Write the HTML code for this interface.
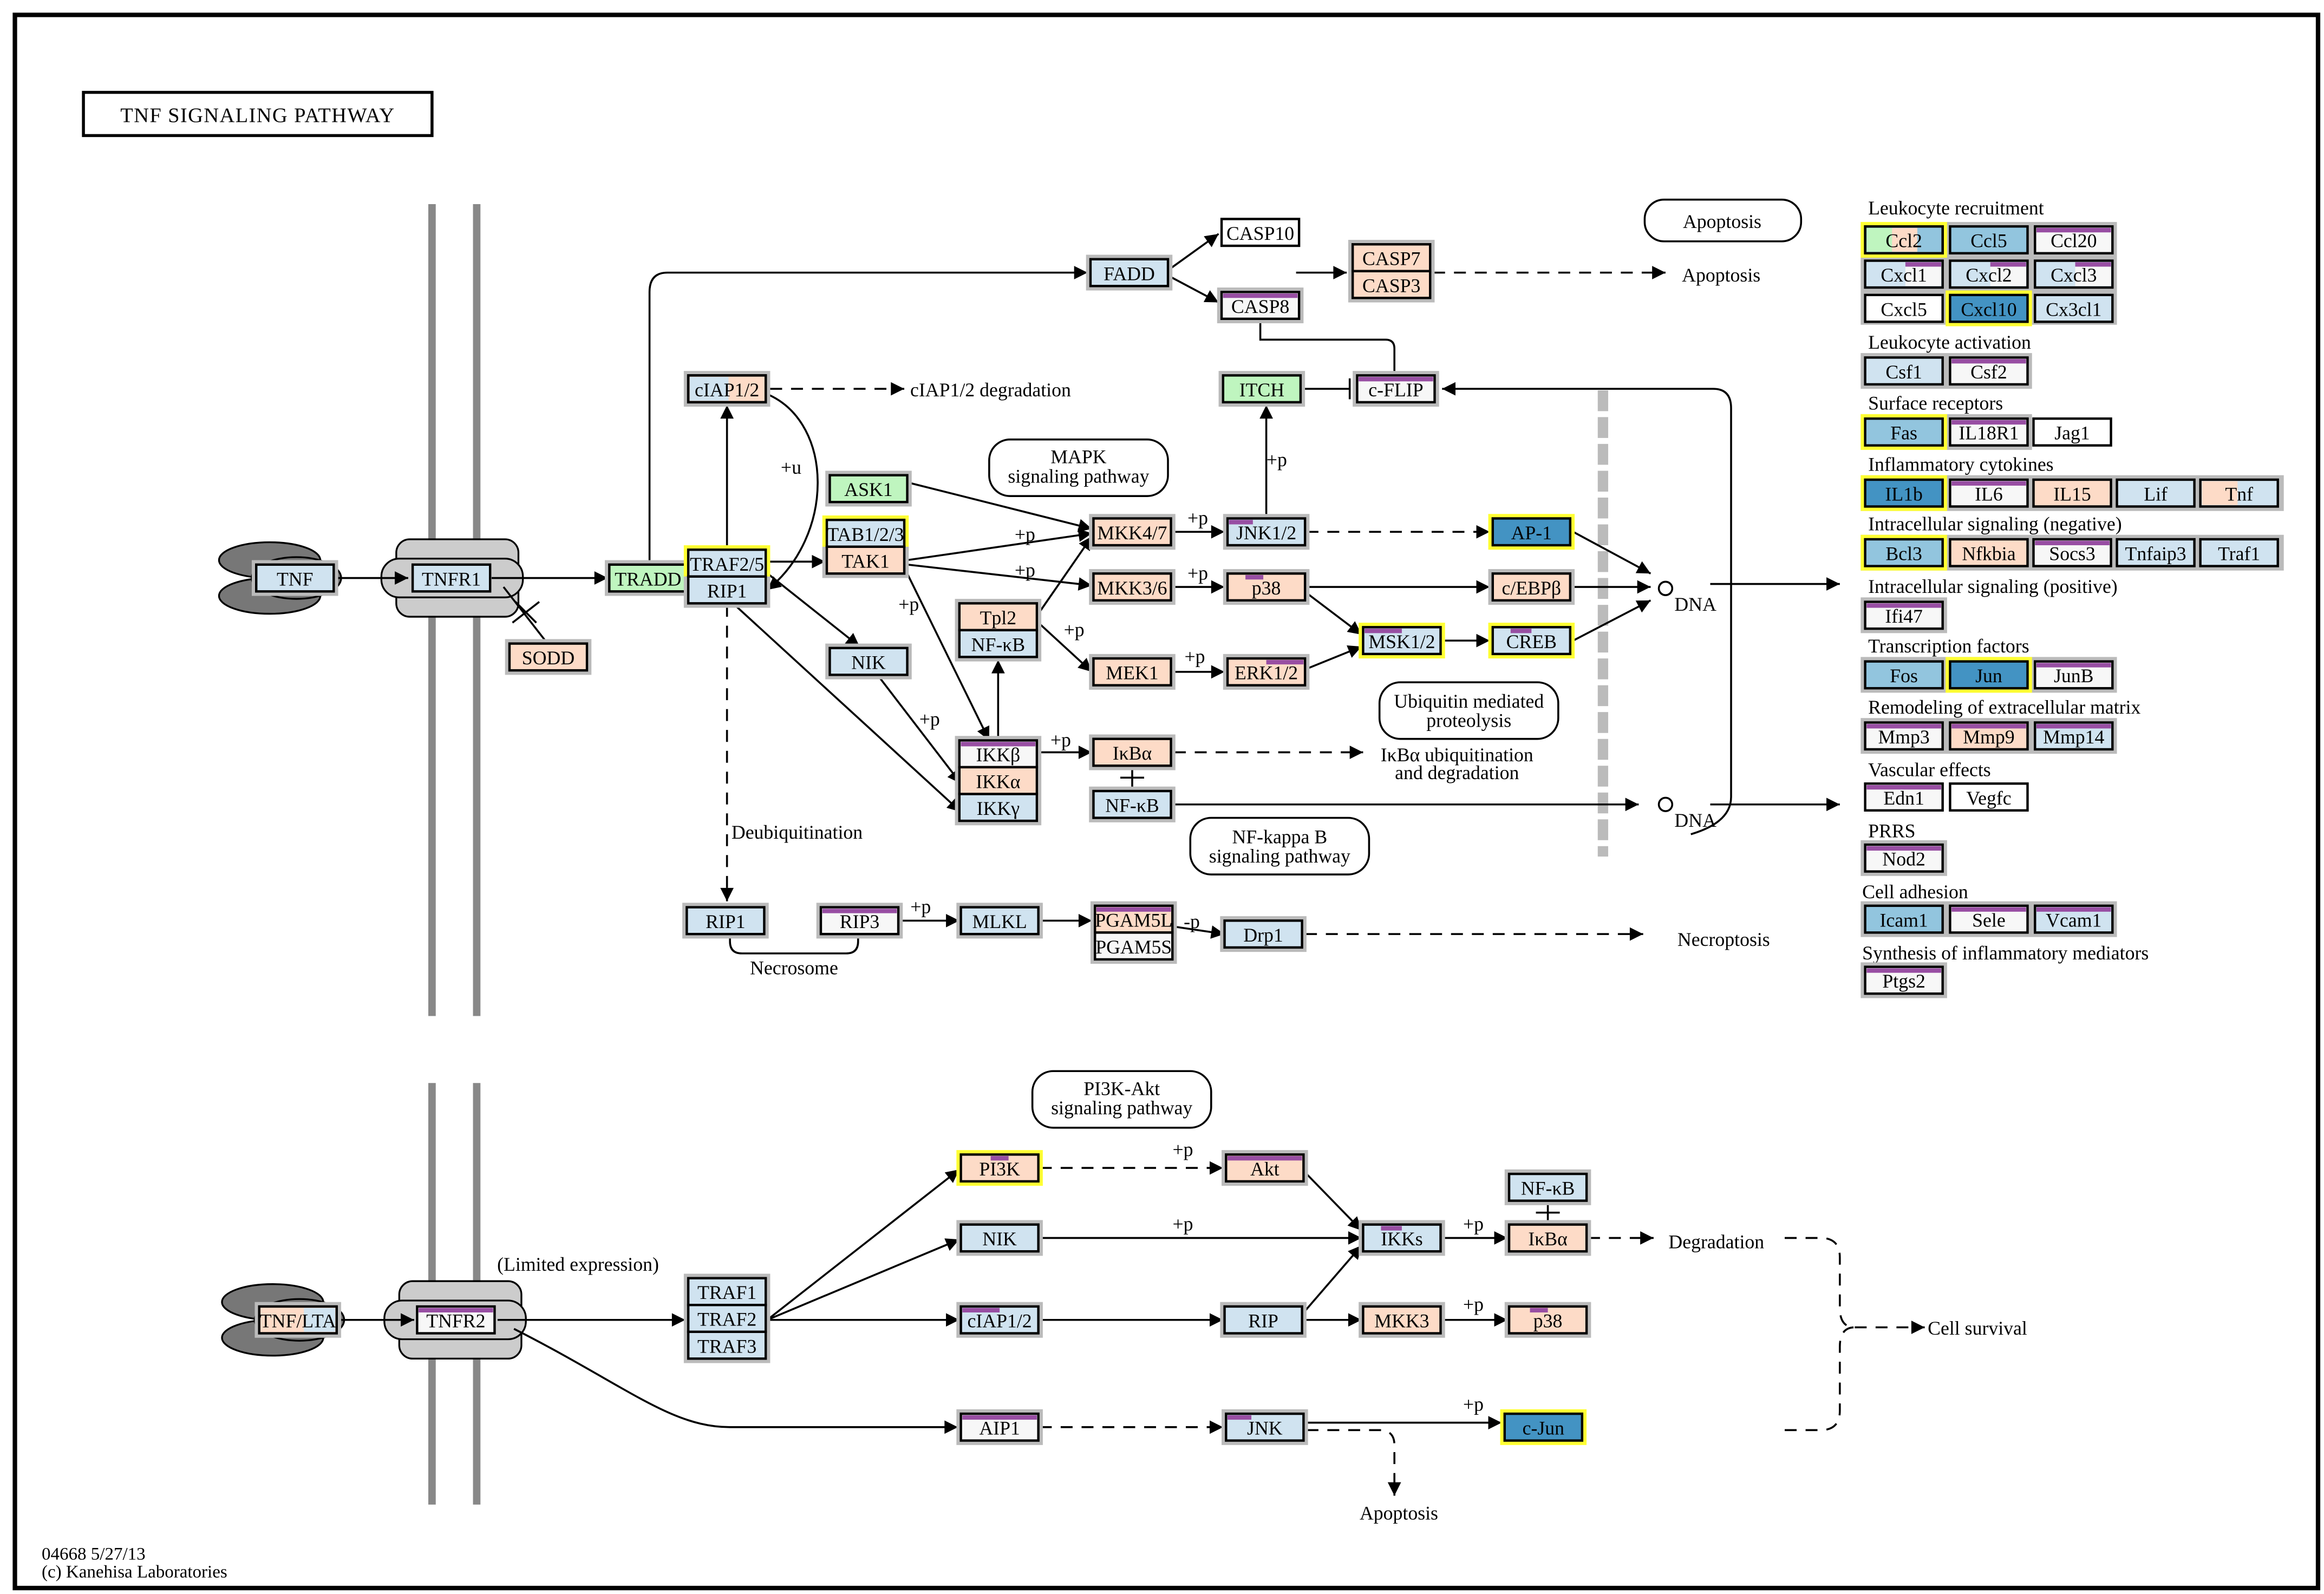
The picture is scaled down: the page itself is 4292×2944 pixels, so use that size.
<!DOCTYPE html>
<html><head><meta charset="utf-8"><style>
html,body{margin:0;padding:0;background:#fff}
svg{display:block}
text{font-family:"Liberation Serif",serif;font-size:13px;fill:#000;text-anchor:middle}
.l{text-anchor:start}
.h{fill:#bbb}.y{fill:#ff3}
.b{stroke:#000;stroke-width:1.6}
.lb{fill:#d0e3f0}.mb{fill:#92c5de}.db{fill:#4393c3}.pe{fill:#fddbc7}.wh{fill:#f7f7f7}.gr{fill:#bff5bf}.ww{fill:#fff}
.pu{fill:#984ea3}
.ln{fill:none;stroke:#000;stroke-width:1.3}
.ar{marker-end:url(#a)}
.da{stroke-dasharray:8 6}
</style></head><body>
<svg width="4292" height="2944" viewBox="0 0 1560 1070" preserveAspectRatio="none" xmlns="http://www.w3.org/2000/svg">
<defs><marker id="a" viewBox="0 0 10 10" refX="10" refY="5" markerUnits="userSpaceOnUse" markerWidth="11" markerHeight="9" orient="auto"><path d="M0,0L10,5L0,10z" fill="#000"/></marker></defs>
<rect x="0" y="0" width="1560" height="1070" fill="#fff"/>
<rect x="10" y="10" width="1546" height="1056" fill="none" stroke="#000" stroke-width="3"/>
<rect x="56" y="62" width="234" height="29" fill="#fff" stroke="#000" stroke-width="2"/>
<text x="173" y="82" style="font-size:14px;letter-spacing:0.5px">TNF SIGNALING PATHWAY</text>

<!-- membranes -->
<g stroke="#888" stroke-width="5"><line x1="290" y1="137" x2="290" y2="682"/><line x1="320" y1="137" x2="320" y2="682"/><line x1="290" y1="727" x2="290" y2="1010"/><line x1="320" y1="727" x2="320" y2="1010"/></g>
<line x1="1076" y1="262" x2="1076" y2="575" stroke="#bbb" stroke-width="7" stroke-dasharray="14 4"/>

<!-- receptor shapes -->
<g stroke="#000" stroke-width="1.2">
<ellipse cx="181" cy="376" rx="34" ry="12" fill="#777"/><ellipse cx="181" cy="400" rx="34" ry="12" fill="#777"/><ellipse cx="199" cy="388" rx="30" ry="14" fill="#777"/>
<rect x="266" y="362" width="82" height="26" rx="9" fill="#ccc"/><rect x="266" y="388" width="82" height="26" rx="9" fill="#ccc"/><rect x="256" y="375" width="95" height="26" rx="12" fill="#ccc"/>
<ellipse cx="183" cy="874" rx="34" ry="12" fill="#777"/><ellipse cx="183" cy="898" rx="34" ry="12" fill="#777"/><ellipse cx="201" cy="886" rx="30" ry="14" fill="#777"/>
<rect x="268" y="860" width="82" height="26" rx="9" fill="#ccc"/><rect x="268" y="886" width="82" height="26" rx="9" fill="#ccc"/><rect x="258" y="873" width="95" height="26" rx="12" fill="#ccc"/>
</g>

<!-- ovals -->
<g fill="#fff" stroke="#000" stroke-width="1.3">
<rect x="1104" y="134" width="105" height="28" rx="13"/>
<rect x="664" y="295" width="120" height="38" rx="14"/>
<rect x="926" y="458" width="120" height="38" rx="14"/>
<rect x="799" y="549" width="120" height="38" rx="14"/>
<rect x="693" y="719" width="120" height="38" rx="14"/>
</g>
<text x="1156" y="153">Apoptosis</text>
<text x="724" y="311">MAPK</text><text x="724" y="324">signaling pathway</text>
<text x="986" y="475">Ubiquitin mediated</text><text x="986" y="488">proteolysis</text>
<text x="859" y="566">NF-kappa B</text><text x="859" y="579">signaling pathway</text>
<text x="753" y="735">PI3K-Akt</text><text x="753" y="748">signaling pathway</text>

<!-- edges -->
<g class="ln">
<path class="ar" d="M226,388H274"/>
<path class="ar" d="M330,388H408"/>
<path d="M338,394L366,430"/><path d="M344,418L362,404M346,404L360,418"/>
<path class="ar" d="M436,379V196Q436,183 448,183H730"/>
<path class="ar" d="M786,180L818,157"/><path class="ar" d="M786,186L818,203"/>
<path class="ar" d="M870,183H904"/>
<path class="ar da" d="M962,183H1118"/>
<path d="M846,214V228H930Q936,228 936,234V252"/>
<path d="M874,261H906M906,254V268"/>
<path class="ar" d="M850,348V272"/>
<path class="ar" d="M1135,560Q1162,552 1162,535V274Q1162,261 1150,261H968"/>
<path class="ar" d="M488,369V272"/>
<path class="ar" d="M516,265C560,285 560,360 515,396"/>
<path class="ar da" d="M517,261H607"/>
<path class="ar" d="M514,377H554"/>
<path class="ar" d="M514,384L577,434"/>
<path class="ar" d="M492,405L645,545"/>
<path class="ar da" d="M488,406V605"/>
<path class="ar" d="M610,324L733,355"/>
<path class="ar" d="M609,376L733,358"/>
<path class="ar" d="M609,379L733,393"/>
<path class="ar" d="M609,385L664,497"/>
<path class="ar" d="M697,412L733,360"/>
<path class="ar" d="M697,418L733,451"/>
<path class="ar" d="M589,453L645,526"/>
<path class="ar" d="M670,496V443"/>
<path class="ar" d="M697,505H733"/>
<path class="ar da" d="M788,505H915"/>
<path d="M760,514V531M752,522H768"/>
<path class="ar" d="M788,540H1100"/>
<path class="ar" d="M788,357H822"/>
<path class="ar" d="M788,394H822"/>
<path class="ar" d="M788,451H822"/>
<path class="ar da" d="M877,357H1000"/>
<path class="ar" d="M877,394H1000"/>
<path class="ar" d="M877,398L914,426"/>
<path class="ar" d="M877,449L914,434"/>
<path class="ar" d="M968,430H1000"/>
<path class="ar" d="M1056,357L1108,385"/>
<path class="ar" d="M1056,394H1108"/>
<path class="ar" d="M1056,430L1108,403"/>
<path class="ar" d="M1148,392H1235"/>
<path class="ar" d="M1148,540H1235"/>
<path d="M490,627V632Q490,640 498,640H568Q576,640 576,632V627"/>
<path class="ar" d="M604,618H644"/>
<path class="ar" d="M698,618H733"/>
<path class="ar" d="M788,622L822,627"/>
<path class="ar da" d="M876,627H1103"/>
<path class="ar" d="M228,886H278"/>
<path class="ar" d="M334,886H460"/>
<path class="ar" d="M345,892C420,930 450,958 490,958H643"/>
<path class="ar" d="M515,886L644,785"/>
<path class="ar" d="M515,886L644,832"/>
<path class="ar" d="M515,886H644"/>
<path class="ar da" d="M698,784H821"/>
<path class="ar" d="M698,831H914"/>
<path class="ar" d="M698,886H821"/>
<path class="ar" d="M877,788L914,826"/>
<path class="ar" d="M876,880L914,836"/>
<path class="ar" d="M876,886H914"/>
<path class="ar" d="M968,886H1012"/>
<path class="ar" d="M968,831H1012"/>
<path d="M1039,806V822M1031,814H1047"/>
<path class="ar da" d="M1066,831H1110"/>
<path class="ar da" d="M698,958H821"/>
<path class="ar" d="M877,955H1008"/>
<path class="ar da" d="M877,960H926Q936,960 936,970V1004"/>
<path class="da" d="M1198,831H1222Q1235,831 1235,844V878Q1235,891 1245,891"/>
<path class="da" d="M1198,960H1222Q1235,960 1235,947V904Q1235,891 1245,891"/>
<path class="ar da" d="M1245,891H1292"/>
</g>
<g fill="#fff" stroke="#000" stroke-width="1.3"><circle cx="1118" cy="395" r="4.5"/><circle cx="1118" cy="540" r="4.5"/></g>

<!-- labels -->
<text class="l" x="1129" y="189">Apoptosis</text>
<text class="l" x="611" y="266">cIAP1/2 degradation</text>
<text x="531" y="318">+u</text>
<text x="857" y="313">+p</text>
<text x="688" y="363">+p</text><text x="688" y="387">+p</text><text x="610" y="410">+p</text><text x="721" y="427">+p</text><text x="624" y="487">+p</text><text x="712" y="501">+p</text>
<text x="804" y="352">+p</text><text x="804" y="389">+p</text><text x="802" y="445">+p</text>
<text class="l" x="1124" y="410">DNA</text><text class="l" x="1124" y="555">DNA</text>
<text x="978" y="511">IκBα ubiquitination</text><text x="978" y="523">and degradation</text>
<text class="l" x="491" y="563">Deubiquitination</text>
<text x="533" y="654">Necrosome</text>
<text x="618" y="613">+p</text><text x="800" y="623">-p</text>
<text class="l" x="1126" y="635">Necroptosis</text>
<text x="388" y="853">(Limited expression)</text>
<text x="794" y="776">+p</text><text x="794" y="826">+p</text><text x="989" y="826">+p</text><text x="989" y="880">+p</text><text x="989" y="947">+p</text>
<text class="l" x="1120" y="838">Degradation</text>
<text class="l" x="1294" y="896">Cell survival</text>
<text x="939" y="1020">Apoptosis</text>
<text class="l" x="28" y="1047" style="font-size:12px">04668 5/27/13</text>
<text class="l" x="28" y="1059" style="font-size:12px">(c) Kanehisa Laboratories</text>

<!-- main nodes -->
<g transform="translate(172,379)"><rect class="h" x="-3" y="-3" width="58" height="24"/><rect class="b lb" width="52" height="18"/><text x="26" y="14">TNF</text></g>
<g transform="translate(277,379)"><rect class="b lb" width="52" height="18"/><text x="26" y="14">TNFR1</text></g>
<g transform="translate(409,379)"><rect class="h" x="-3" y="-3" width="58" height="24"/><rect class="b gr" width="52" height="18"/><text x="26" y="14">TRADD</text></g>
<g transform="translate(462,369)"><rect class="y" x="-3" y="-3" width="58" height="21"/><rect class="h" x="-3" y="18" width="58" height="21"/><rect class="b lb" width="52" height="18"/><text x="26" y="14">TRAF2/5</text><rect class="b lb" y="18" width="52" height="18"/><text x="26" y="32">RIP1</text></g>
<g transform="translate(342,432)"><rect class="h" x="-3" y="-3" width="58" height="24"/><rect class="b pe" width="52" height="18"/><text x="26" y="14">SODD</text></g>
<g transform="translate(462,252)"><rect class="h" x="-3" y="-3" width="58" height="24"/><rect class="b pe" width="52" height="18"/><rect class="lb" x="1" y="1" width="26" height="16"/><rect fill="none" class="b" width="52" height="18"/><text x="26" y="14">cIAP1/2</text></g>
<g transform="translate(732,174)"><rect class="h" x="-3" y="-3" width="58" height="24"/><rect class="b lb" width="52" height="18"/><text x="26" y="14">FADD</text></g>
<g transform="translate(820,147)"><rect class="b ww" width="52" height="18"/><text x="26" y="14">CASP10</text></g>
<g transform="translate(820,196)"><rect class="h" x="-3" y="-3" width="58" height="24"/><rect class="b wh" width="52" height="18"/><rect class="pu" x="1" y="1" width="50" height="3"/><text x="26" y="14">CASP8</text></g>
<g transform="translate(908,164)"><rect class="h" x="-3" y="-3" width="58" height="42"/><rect class="b pe" width="52" height="18"/><text x="26" y="14">CASP7</text><rect class="b pe" y="18" width="52" height="18"/><text x="26" y="32">CASP3</text></g>
<g transform="translate(821,252)"><rect class="h" x="-3" y="-3" width="58" height="24"/><rect class="b gr" width="52" height="18"/><text x="26" y="14">ITCH</text></g>
<g transform="translate(911,252)"><rect class="h" x="-3" y="-3" width="58" height="24"/><rect class="b wh" width="52" height="18"/><rect class="pu" x="1" y="1" width="50" height="3"/><text x="26" y="14">c-FLIP</text></g>
<g transform="translate(557,319)"><rect class="h" x="-3" y="-3" width="58" height="24"/><rect class="b gr" width="52" height="18"/><text x="26" y="14">ASK1</text></g>
<g transform="translate(555,349)"><rect class="y" x="-3" y="-3" width="58" height="24"/><rect class="h" x="-3" y="18" width="58" height="21"/><rect class="b lb" width="52" height="18"/><text x="26" y="14">TAB1/2/3</text><rect class="b pe" y="18" width="52" height="18"/><text x="26" y="32">TAK1</text></g>
<g transform="translate(734,348)"><rect class="h" x="-3" y="-3" width="58" height="24"/><rect class="b pe" width="52" height="18"/><text x="26" y="14">MKK4/7</text></g>
<g transform="translate(734,385)"><rect class="h" x="-3" y="-3" width="58" height="24"/><rect class="b pe" width="52" height="18"/><text x="26" y="14">MKK3/6</text></g>
<g transform="translate(734,442)"><rect class="h" x="-3" y="-3" width="58" height="24"/><rect class="b pe" width="52" height="18"/><text x="26" y="14">MEK1</text></g>
<g transform="translate(824,348)"><rect class="h" x="-3" y="-3" width="58" height="24"/><rect class="b lb" width="52" height="18"/><rect class="pu" x="1" y="1" width="16" height="3"/><text x="26" y="14">JNK1/2</text></g>
<g transform="translate(824,385)"><rect class="h" x="-3" y="-3" width="58" height="24"/><rect class="b pe" width="52" height="18"/><rect class="pu" x="12" y="1" width="12" height="3"/><text x="26" y="14">p38</text></g>
<g transform="translate(824,442)"><rect class="h" x="-3" y="-3" width="58" height="24"/><rect class="b pe" width="52" height="18"/><rect class="pu" x="26" y="1" width="25" height="3"/><text x="26" y="14">ERK1/2</text></g>
<g transform="translate(1002,348)"><rect class="y" x="-3" y="-3" width="58" height="24"/><rect class="b db" width="52" height="18"/><text x="26" y="14">AP-1</text></g>
<g transform="translate(1002,385)"><rect class="h" x="-3" y="-3" width="58" height="24"/><rect class="b pe" width="52" height="18"/><text x="26" y="14">c/EBPβ</text></g>
<g transform="translate(915,421)"><rect class="y" x="-3" y="-3" width="58" height="24"/><rect class="b lb" width="52" height="18"/><rect class="pu" x="1" y="1" width="25" height="3"/><text x="26" y="14">MSK1/2</text></g>
<g transform="translate(1002,421)"><rect class="y" x="-3" y="-3" width="58" height="24"/><rect class="b lb" width="52" height="18"/><rect class="pu" x="12" y="1" width="14" height="3"/><text x="26" y="14">CREB</text></g>
<g transform="translate(644,405)"><rect class="h" x="-3" y="-3" width="58" height="42"/><rect class="b pe" width="52" height="18"/><text x="26" y="14">Tpl2</text><rect class="b lb" y="18" width="52" height="18"/><text x="26" y="32">NF-κB</text></g>
<g transform="translate(557,435)"><rect class="h" x="-3" y="-3" width="58" height="24"/><rect class="b lb" width="52" height="18"/><text x="26" y="14">NIK</text></g>
<g transform="translate(644,497)"><rect class="h" x="-3" y="-3" width="58" height="60"/><rect class="b wh" width="52" height="18"/><rect class="pu" x="1" y="1" width="50" height="3"/><text x="26" y="14">IKKβ</text><rect class="b pe" y="18" width="52" height="18"/><text x="26" y="32">IKKα</text><rect class="b lb" y="36" width="52" height="18"/><text x="26" y="50">IKKγ</text></g>
<g transform="translate(734,496)"><rect class="h" x="-3" y="-3" width="58" height="24"/><rect class="b pe" width="52" height="18"/><text x="26" y="14">IκBα</text></g>
<g transform="translate(734,531)"><rect class="h" x="-3" y="-3" width="58" height="24"/><rect class="b lb" width="52" height="18"/><text x="26" y="14">NF-κB</text></g>
<g transform="translate(461,609)"><rect class="h" x="-3" y="-3" width="58" height="24"/><rect class="b lb" width="52" height="18"/><text x="26" y="14">RIP1</text></g>
<g transform="translate(551,609)"><rect class="h" x="-3" y="-3" width="58" height="24"/><rect class="b wh" width="52" height="18"/><rect class="pu" x="1" y="1" width="50" height="3"/><text x="26" y="14">RIP3</text></g>
<g transform="translate(645,609)"><rect class="h" x="-3" y="-3" width="58" height="24"/><rect class="b lb" width="52" height="18"/><text x="26" y="14">MLKL</text></g>
<g transform="translate(735,608)"><rect class="h" x="-3" y="-3" width="58" height="42"/><rect class="b pe" width="52" height="18"/><rect class="pu" x="1" y="1" width="50" height="3"/><text x="26" y="14">PGAM5L</text><rect class="b wh" y="18" width="52" height="18"/><text x="26" y="32">PGAM5S</text></g>
<g transform="translate(822,618)"><rect class="h" x="-3" y="-3" width="58" height="24"/><rect class="b lb" width="52" height="18"/><text x="26" y="14">Drp1</text></g>

<!-- bottom nodes -->
<g transform="translate(174,877)"><rect class="h" x="-3" y="-3" width="58" height="24"/><rect class="b pe" width="52" height="18"/><rect class="lb" x="30" y="1" width="21" height="16"/><text x="26" y="14">TNF/LTA</text></g>
<g transform="translate(280,877)"><rect class="b wh" width="52" height="18"/><rect class="pu" x="1" y="1" width="50" height="3"/><text x="26" y="14">TNFR2</text></g>
<g transform="translate(462,858)"><rect class="h" x="-3" y="-3" width="58" height="60"/><rect class="b lb" width="52" height="18"/><text x="26" y="14">TRAF1</text><rect class="b lb" y="18" width="52" height="18"/><text x="26" y="32">TRAF2</text><rect class="b lb" y="36" width="52" height="18"/><text x="26" y="50">TRAF3</text></g>
<g transform="translate(645,775)"><rect class="y" x="-3" y="-3" width="58" height="24"/><rect class="b pe" width="52" height="18"/><rect class="pu" x="20" y="1" width="12" height="3"/><text x="26" y="14">PI3K</text></g>
<g transform="translate(645,822)"><rect class="h" x="-3" y="-3" width="58" height="24"/><rect class="b lb" width="52" height="18"/><text x="26" y="14">NIK</text></g>
<g transform="translate(645,877)"><rect class="h" x="-3" y="-3" width="58" height="24"/><rect class="b lb" width="52" height="18"/><rect class="pu" x="1" y="1" width="25" height="3"/><text x="26" y="14">cIAP1/2</text></g>
<g transform="translate(645,949)"><rect class="h" x="-3" y="-3" width="58" height="24"/><rect class="b wh" width="52" height="18"/><rect class="pu" x="1" y="1" width="50" height="3"/><text x="26" y="14">AIP1</text></g>
<g transform="translate(823,775)"><rect class="h" x="-3" y="-3" width="58" height="24"/><rect class="b pe" width="52" height="18"/><rect class="pu" x="1" y="1" width="50" height="3"/><text x="26" y="14">Akt</text></g>
<g transform="translate(915,822)"><rect class="h" x="-3" y="-3" width="58" height="24"/><rect class="b lb" width="52" height="18"/><rect class="pu" x="12" y="1" width="14" height="3"/><text x="26" y="14">IKKs</text></g>
<g transform="translate(1013,788)"><rect class="h" x="-3" y="-3" width="58" height="24"/><rect class="b lb" width="52" height="18"/><text x="26" y="14">NF-κB</text></g>
<g transform="translate(1013,822)"><rect class="h" x="-3" y="-3" width="58" height="24"/><rect class="b pe" width="52" height="18"/><text x="26" y="14">IκBα</text></g>
<g transform="translate(822,877)"><rect class="h" x="-3" y="-3" width="58" height="24"/><rect class="b lb" width="52" height="18"/><text x="26" y="14">RIP</text></g>
<g transform="translate(915,877)"><rect class="h" x="-3" y="-3" width="58" height="24"/><rect class="b pe" width="52" height="18"/><text x="26" y="14">MKK3</text></g>
<g transform="translate(1013,877)"><rect class="h" x="-3" y="-3" width="58" height="24"/><rect class="b pe" width="52" height="18"/><rect class="pu" x="14" y="1" width="12" height="3"/><text x="26" y="14">p38</text></g>
<g transform="translate(823,949)"><rect class="h" x="-3" y="-3" width="58" height="24"/><rect class="b lb" width="52" height="18"/><rect class="pu" x="1" y="1" width="16" height="3"/><text x="26" y="14">JNK</text></g>
<g transform="translate(1010,949)"><rect class="y" x="-3" y="-3" width="58" height="24"/><rect class="b db" width="52" height="18"/><text x="26" y="14">c-Jun</text></g>

<!-- right panel -->
<g style="font-size:12px">
<text class="l" x="1254" y="144">Leukocyte recruitment</text>
<text class="l" x="1254" y="234">Leukocyte activation</text>
<text class="l" x="1254" y="275">Surface receptors</text>
<text class="l" x="1254" y="316">Inflammatory cytokines</text>
<text class="l" x="1254" y="356">Intracellular signaling (negative)</text>
<text class="l" x="1254" y="398">Intracellular signaling (positive)</text>
<text class="l" x="1254" y="438">Transcription factors</text>
<text class="l" x="1254" y="479">Remodeling of extracellular matrix</text>
<text class="l" x="1254" y="521">Vascular effects</text>
<text class="l" x="1254" y="562">PRRS</text>
<text class="l" x="1250" y="603">Cell adhesion</text>
<text class="l" x="1250" y="644">Synthesis of inflammatory mediators</text>
</g>
<!-- halos for panel -->
<rect class="h" x="1249" y="149" width="172" height="69"/>
<rect class="h" x="1249" y="237" width="115" height="24"/>
<rect class="h" x="1249" y="278" width="115" height="24"/>
<rect class="h" x="1249" y="319" width="284" height="24"/>
<rect class="h" x="1249" y="359" width="284" height="24"/>
<rect class="h" x="1249" y="401" width="58" height="24"/>
<rect class="h" x="1249" y="441" width="172" height="24"/>
<rect class="h" x="1249" y="482" width="172" height="24"/>
<rect class="h" x="1249" y="564" width="58" height="24"/>
<rect class="h" x="1249" y="605" width="172" height="24"/>
<rect class="h" x="1249" y="646" width="58" height="24"/>
<rect class="y" x="1249" y="149" width="58" height="24"/>
<rect class="y" x="1306" y="195" width="58" height="24"/>
<rect class="y" x="1249" y="278" width="58" height="24"/>
<rect class="y" x="1249" y="319" width="58" height="24"/>
<rect class="y" x="1249" y="359" width="58" height="24"/>
<rect class="y" x="1306" y="441" width="58" height="24"/>

<g transform="translate(1252,152)"><rect class="b mb" width="52" height="18"/><rect class="gr" x="1" y="1" width="17" height="16"/><rect class="pe" x="18" y="1" width="17" height="16"/><rect fill="none" class="b" width="52" height="18"/><text x="26" y="14">Ccl2</text></g>
<g transform="translate(1309,152)"><rect class="b mb" width="52" height="18"/><text x="26" y="14">Ccl5</text></g>
<g transform="translate(1366,152)"><rect class="b wh" width="52" height="18"/><rect class="pu" x="1" y="1" width="50" height="3"/><text x="26" y="14">Ccl20</text></g>
<g transform="translate(1252,175)"><rect class="b lb" width="52" height="18"/><rect class="wh" x="27" y="4" width="24" height="13"/><rect class="pu" x="27" y="1" width="24" height="3"/><text x="26" y="14">Cxcl1</text></g>
<g transform="translate(1309,175)"><rect class="b lb" width="52" height="18"/><rect class="wh" x="27" y="4" width="24" height="13"/><rect class="pu" x="27" y="1" width="24" height="3"/><text x="26" y="14">Cxcl2</text></g>
<g transform="translate(1366,175)"><rect class="b lb" width="52" height="18"/><rect class="wh" x="27" y="4" width="24" height="13"/><rect class="pu" x="27" y="1" width="24" height="3"/><text x="26" y="14">Cxcl3</text></g>
<g transform="translate(1252,198)"><rect class="b ww" width="52" height="18"/><text x="26" y="14">Cxcl5</text></g>
<g transform="translate(1309,198)"><rect class="b db" width="52" height="18"/><text x="26" y="14">Cxcl10</text></g>
<g transform="translate(1366,198)"><rect class="b lb" width="52" height="18"/><text x="26" y="14">Cx3cl1</text></g>
<g transform="translate(1252,240)"><rect class="b lb" width="52" height="18"/><text x="26" y="14">Csf1</text></g>
<g transform="translate(1309,240)"><rect class="b wh" width="52" height="18"/><rect class="pu" x="1" y="1" width="50" height="3"/><text x="26" y="14">Csf2</text></g>
<g transform="translate(1252,281)"><rect class="b mb" width="52" height="18"/><text x="26" y="14">Fas</text></g>
<g transform="translate(1309,281)"><rect class="b wh" width="52" height="18"/><rect class="pu" x="1" y="1" width="50" height="3"/><text x="26" y="14">IL18R1</text></g>
<g transform="translate(1365,281)"><rect class="b ww" width="52" height="18"/><text x="26" y="14">Jag1</text></g>
<g transform="translate(1252,322)"><rect class="b db" width="52" height="18"/><text x="26" y="14">IL1b</text></g>
<g transform="translate(1309,322)"><rect class="b wh" width="52" height="18"/><rect class="pu" x="1" y="1" width="50" height="3"/><text x="26" y="14">IL6</text></g>
<g transform="translate(1365,322)"><rect class="b pe" width="52" height="18"/><text x="26" y="14">IL15</text></g>
<g transform="translate(1421,322)"><rect class="b lb" width="52" height="18"/><text x="26" y="14">Lif</text></g>
<g transform="translate(1477,322)"><rect class="b lb" width="52" height="18"/><rect class="pe" x="1" y="1" width="24" height="16"/><text x="26" y="14">Tnf</text></g>
<g transform="translate(1252,362)"><rect class="b mb" width="52" height="18"/><text x="26" y="14">Bcl3</text></g>
<g transform="translate(1309,362)"><rect class="b pe" width="52" height="18"/><text x="26" y="14">Nfkbia</text></g>
<g transform="translate(1365,362)"><rect class="b wh" width="52" height="18"/><rect class="pu" x="1" y="1" width="50" height="3"/><text x="26" y="14">Socs3</text></g>
<g transform="translate(1421,362)"><rect class="b lb" width="52" height="18"/><text x="26" y="14">Tnfaip3</text></g>
<g transform="translate(1477,362)"><rect class="b lb" width="52" height="18"/><text x="26" y="14">Traf1</text></g>
<g transform="translate(1252,404)"><rect class="b wh" width="52" height="18"/><rect class="pu" x="1" y="1" width="50" height="3"/><text x="26" y="14">Ifi47</text></g>
<g transform="translate(1252,444)"><rect class="b mb" width="52" height="18"/><text x="26" y="14">Fos</text></g>
<g transform="translate(1309,444)"><rect class="b db" width="52" height="18"/><text x="26" y="14">Jun</text></g>
<g transform="translate(1366,444)"><rect class="b wh" width="52" height="18"/><rect class="pu" x="1" y="1" width="50" height="3"/><text x="26" y="14">JunB</text></g>
<g transform="translate(1252,485)"><rect class="b wh" width="52" height="18"/><rect class="pu" x="1" y="1" width="50" height="3"/><text x="26" y="14">Mmp3</text></g>
<g transform="translate(1309,485)"><rect class="b pe" width="52" height="18"/><rect class="pu" x="1" y="1" width="50" height="3"/><text x="26" y="14">Mmp9</text></g>
<g transform="translate(1366,485)"><rect class="b lb" width="52" height="18"/><rect class="pu" x="1" y="1" width="50" height="3"/><text x="26" y="14">Mmp14</text></g>
<g transform="translate(1252,526)"><rect class="b wh" width="52" height="18"/><rect class="pu" x="1" y="1" width="50" height="3"/><text x="26" y="14">Edn1</text></g>
<g transform="translate(1309,526)"><rect class="b ww" width="52" height="18"/><text x="26" y="14">Vegfc</text></g>
<g transform="translate(1252,567)"><rect class="b wh" width="52" height="18"/><rect class="pu" x="1" y="1" width="50" height="3"/><text x="26" y="14">Nod2</text></g>
<g transform="translate(1252,608)"><rect class="b mb" width="52" height="18"/><text x="26" y="14">Icam1</text></g>
<g transform="translate(1309,608)"><rect class="b wh" width="52" height="18"/><rect class="pu" x="1" y="1" width="50" height="3"/><text x="26" y="14">Sele</text></g>
<g transform="translate(1366,608)"><rect class="b lb" width="52" height="18"/><rect class="pu" x="1" y="1" width="50" height="3"/><text x="26" y="14">Vcam1</text></g>
<g transform="translate(1252,649)"><rect class="b wh" width="52" height="18"/><rect class="pu" x="1" y="1" width="50" height="3"/><text x="26" y="14">Ptgs2</text></g>
</svg>
</body></html>
